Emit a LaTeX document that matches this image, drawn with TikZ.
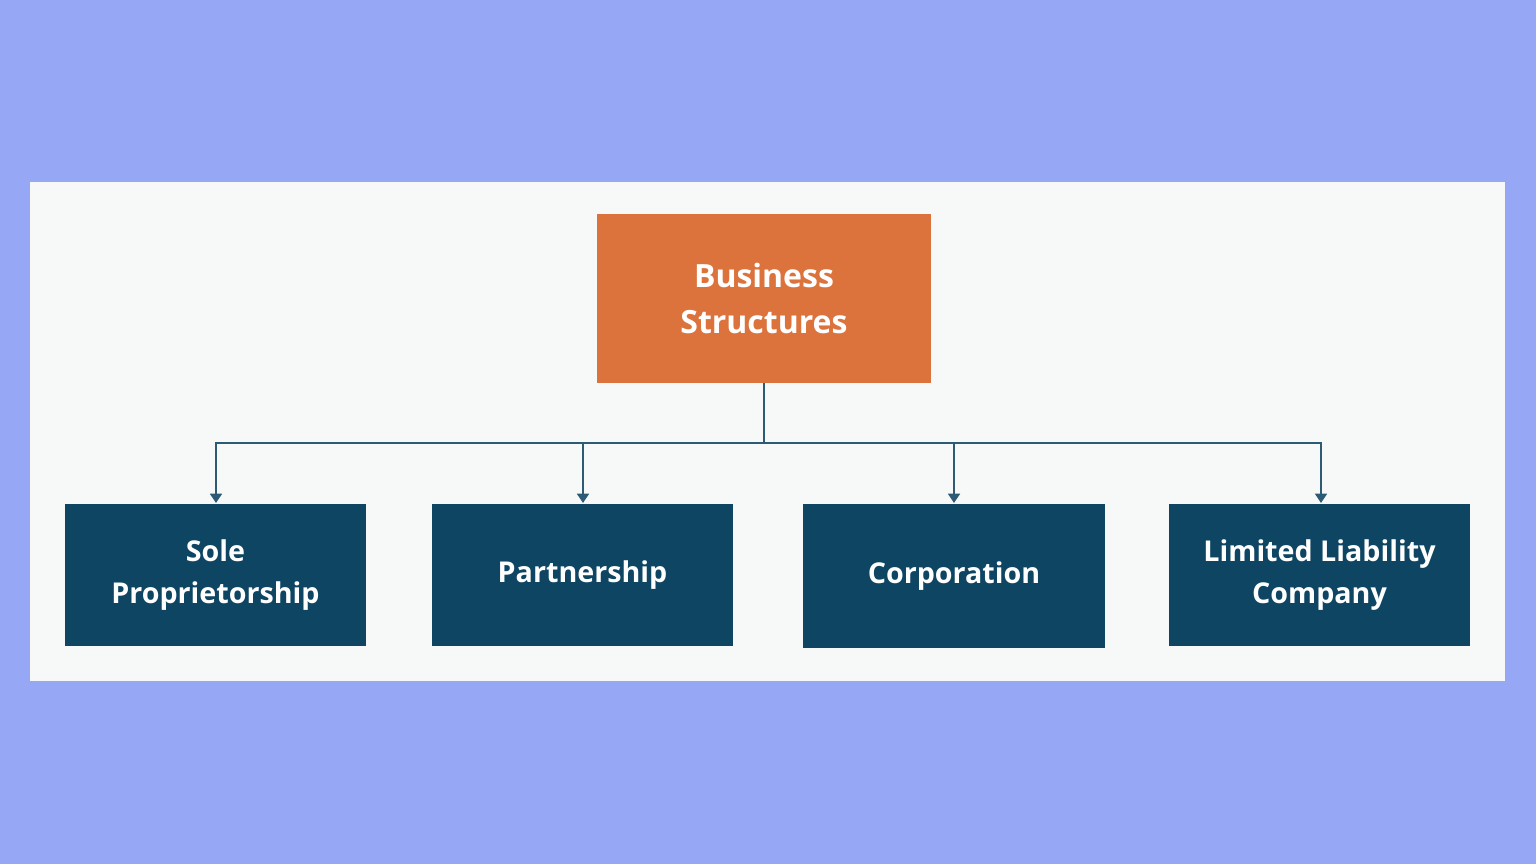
\documentclass[tikz,border=0pt]{standalone}
\usepackage{fontspec}
\setmainfont{Open Sans}
\usetikzlibrary{arrows.meta}
\definecolor{bg}{HTML}{96A8F5}
\definecolor{panel}{HTML}{F7F9F9}
\definecolor{orng}{HTML}{DC733C}
\definecolor{navy}{HTML}{0E4563}
\definecolor{ln}{HTML}{2D5A75}
\tikzset{
 topbox/.style={fill=orng,text=white,align=center,font=\bfseries\fontsize{24}{34}\selectfont},
 subbox/.style={fill=navy,text=white,align=center,font=\bfseries\fontsize{21.5}{31}\selectfont},
 conn/.style={draw=ln,line width=1.3pt,-{Triangle[length=7pt,width=9pt]}}
}
\begin{document}
\begin{tikzpicture}[x=0.75pt,y=-0.75pt]
\useasboundingbox (0,0) rectangle (1536,864);
\fill[bg] (0,0) rectangle (1536,864);
\fill[panel] (30,182) rectangle (1505,681);
\fill[orng] (597,214) rectangle (931,383);
\node[topbox] (top) at (764,298.5) {Business\\Structures};
\fill[navy] (65,504) rectangle (366,646);
\fill[navy] (432,504) rectangle (733,646);
\fill[navy] (803,504) rectangle (1105,648);
\fill[navy] (1169,504) rectangle (1470,646);
\node[subbox] (a) at (215.5,575) {Sole\\Proprietorship};
\node[subbox] (b) at (582.5,575) {Partnership};
\node[subbox] (c) at (954,576) {Corporation};
\node[subbox] (d) at (1319.5,575) {Limited Liability\\Company};
\coordinate (tb) at (764,383);
\coordinate (j) at (764,443);
\coordinate (ta) at (216,503);
\coordinate (tbb) at (583,503);
\coordinate (tc) at (954,503);
\coordinate (td) at (1321,503);
\draw[draw=ln,line width=1.3pt] (tb) -- (j);
\draw[conn] (j) -| (ta);
\draw[conn] (j) -| (tbb);
\draw[conn] (j) -| (tc);
\draw[conn] (j) -| (td);
\end{tikzpicture}
\end{document}
